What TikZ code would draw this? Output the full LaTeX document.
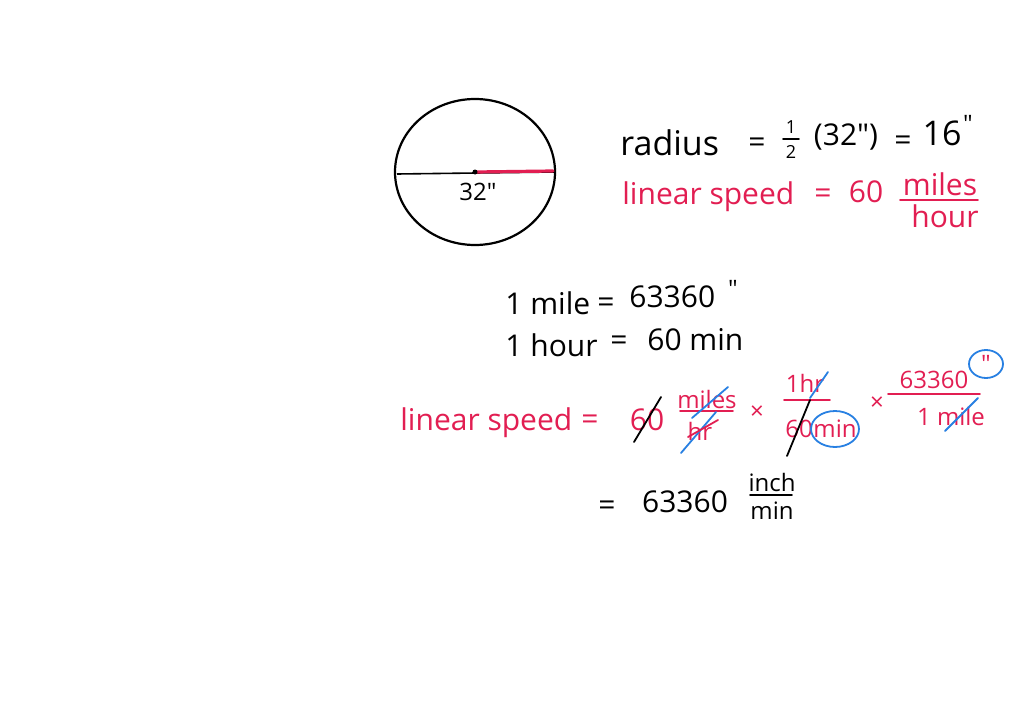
\documentclass[tikz,border=0pt]{standalone}
\usepackage{fontspec}
\setmainfont{Open Sans}
\newfontfamily\handfont{Open Sans}
\usetikzlibrary{calc}

\definecolor{inkred}{RGB}{226,30,82}
\definecolor{inkblue}{RGB}{40,128,226}

\tikzset{
  hand/.style={inner sep=0pt, font=\handfont\fontsize{15}{18}\selectfont},
  handbig/.style={inner sep=0pt, font=\handfont\fontsize{17}{18}\selectfont},
  handsmall/.style={inner sep=0pt, font=\handfont\fontsize{12}{14}\selectfont},
  handtiny/.style={inner sep=0pt, font=\handfont\fontsize{9}{10}\selectfont},
  bar/.style={line width=0.8pt, line cap=round},
  strike/.style={line width=0.9pt, line cap=round},
  ring/.style={inkblue, line width=0.9pt},
}

\begin{document}
\begin{tikzpicture}[x=0.5pt,y=-0.5pt]
    \useasboundingbox (0,0) rectangle (1024,712);
    \fill[white] (0,0) rectangle (1024,712);

    % Wheel
    \coordinate (hub) at (475,172);
    \draw[line width=1.1pt] (hub) ellipse (80 and 73);
    \draw[line width=0.8pt] (397,174) -- (555,172);
    \draw[inkred, line width=1.6pt, line cap=round] (hub) -- (553,171);
    \fill (hub) circle (2.5);
    \node[handsmall] (diam) at (478,192) {32"};

    % Radius line
    \node[handbig, anchor=west] (radiusLbl) at (620,143) {radius};
    \node[hand] (eqA) at (757,145) {=};
    \node[handtiny] (halfNum) at (791,127) {1};
    \node[handtiny] (halfDen) at (791,152) {2};
    \draw[bar] (783,139) -- (799,139);
    \node[hand] (thirtyTwo) at (846,137) {(32")};
    \node[hand] (eqB) at (903,143) {=};
    \node[handbig] (sixteen) at (942,133) {16};
    \node[handsmall] (inchA) at (968,124) {"};

    % Given speed
    \begin{scope}[inkred]
    \node[hand, anchor=west] (speedLbl) at (622,197) {linear speed};
    \node[hand] (eqC) at (823,196) {=};
    \node[hand] (sixty) at (866,192) {60};
    \node[hand] (milesA) at (940,184) {miles};
    \draw[bar] (900,200) -- (978,200);
    \node[hand] (hourA) at (945,216) {hour};
    \end{scope}

    % Conversions
    \node[hand, anchor=west] (mileLbl) at (505,303) {1 mile};
    \node[hand] (eqD) at (606,305) {=};
    \node[hand, anchor=west] (inchesMile) at (629,297) {63360};
    \node[handsmall] (inchB) at (733,289) {"};
    \node[hand, anchor=west] (hourLbl) at (505,345) {1 hour};
    \node[hand] (eqE) at (619,343) {=};
    \node[hand, anchor=west] (minLbl) at (647,340) {60 min};

    % Conversion chain
    \begin{scope}[inkred]
    \node[hand, anchor=west] (speedLblB) at (400,423) {linear speed};
    \node[hand] (eqF) at (590,422) {=};
    \node[hand] (sixtyB) at (647,420) {60};
    \node[handsmall] (milesB) at (707,399) {miles};
    \draw[bar] (680,411) -- (733,411);
    \node[handsmall] (hrA) at (700,431) {hr};
    \node[handsmall] (timesA) at (757,413) {×};
    \node[handsmall] (hrB) at (805,383) {1hr};
    \draw[bar] (784,400) -- (830,400);
    \node[handsmall] (sixtyC) at (799,429) {60};
    \node[handsmall] (minB) at (835,429) {min};
    \node[handsmall] (timesB) at (877,404) {×};
    \node[handsmall] (inchesB) at (934,380) {63360};
    \draw[bar] (888,394) -- (980,394);
    \node[handsmall] (mileB) at (951,416) {1 mile};
    \end{scope}
    \node[handsmall, inkred] (inchC) at (986,364) {"};

    % Cancellations
    \draw[strike] (634,442) -- (661,397);
    \draw[strike] (787,456) -- (810,400);
    \draw[strike, inkblue] (692,418) -- (728,387);
    \draw[strike, inkblue] (681,453) -- (716,412);
    \draw[strike, inkred] (688,437) -- (718,420);
    \draw[strike, inkblue] (810,398) -- (828,372);
    \draw[strike, inkblue] (945,431) -- (978,398);
    \draw[ring] (minB) ellipse (24 and 18);
    \draw[ring] (inchC) ellipse (17 and 14);

    % Result
    \node[hand] (eqG) at (607,508) {=};
    \node[hand] (result) at (685,502) {63360};
    \node[handsmall] (inchD) at (772,482) {inch};
    \draw[bar] (750,495) -- (792,495);
    \node[handsmall] (minC) at (772,511) {min};
\end{tikzpicture}
\end{document}
